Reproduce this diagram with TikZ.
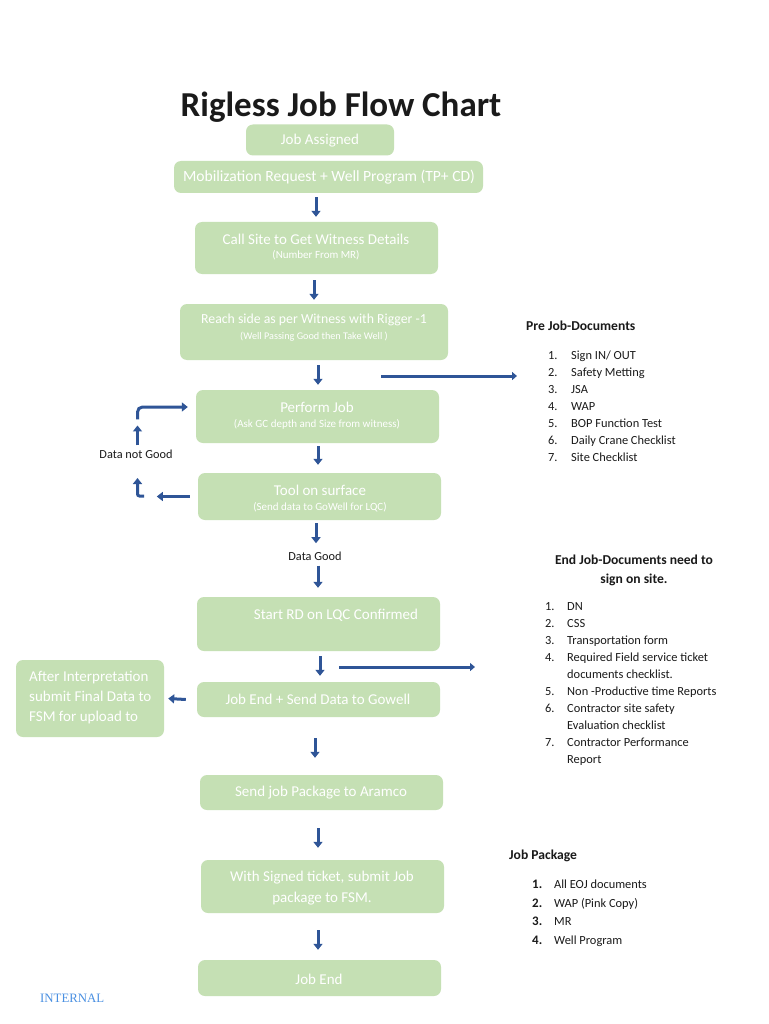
\documentclass[tikz,border=0pt]{standalone}
\usepackage{fontspec}
\setmainfont{Carlito}
\newfontfamily\intfont{Liberation Serif}
\usetikzlibrary{arrows.meta}
\definecolor{boxgreen}{HTML}{C5E0B4}
\definecolor{arrblue}{HTML}{2F5597}
\definecolor{intblue}{HTML}{4A90E2}
\definecolor{txtdark}{HTML}{1A1A1A}
\begin{document}
\begin{tikzpicture}[x=1pt,y=-1pt,
  box/.style={fill=boxgreen, rounded corners=7pt, inner sep=0pt},
  maintxt/.style={text=white, inner sep=0pt, font=\fontsize{15}{18}\selectfont},
  subtxt/.style={text=white, inner sep=0pt, font=\fontsize{11}{13}\selectfont},
  arr/.style={draw=arrblue, line width=3pt, -{Triangle[width=9pt,length=6pt]}},
  sarr/.style={draw=arrblue, line width=3pt, -{Triangle[width=8pt,length=5pt]}},
  lbl/.style={text=txtdark, inner sep=0pt, font=\fontsize{12.3}{14}\selectfont},
  head/.style={text=txtdark, inner sep=0pt, font=\bfseries\fontsize{13.6}{16}\selectfont},
  item/.style={text=txtdark, inner sep=0pt, anchor=mid west, font=\fontsize{12.4}{14}\selectfont},
  bitem/.style={text=txtdark, inner sep=0pt, anchor=mid west, font=\bfseries\fontsize{13}{15}\selectfont}
]
\useasboundingbox[fill=white] (0,0) rectangle (768,1024);

% title
\node[text=txtdark, inner sep=0pt, font=\bfseries\fontsize{35}{42}\selectfont] (title) at (341,107) {Rigless Job Flow Chart};

% boxes
\node[box, minimum width=148, minimum height=31] (assigned) at (320,140) {};
\node[maintxt] (tassigned) at (320,141) {Job Assigned};

\node[box, minimum width=309, minimum height=32] (mob) at (328.5,177) {};
\node[maintxt, font=\fontsize{15.6}{18}\selectfont] (tmob) at (329,177) {Mobilization Request + Well Program (TP+ CD)};

\node[box, minimum width=243, minimum height=52] (call) at (316.5,248) {};
\node[maintxt] (tcall) at (316,239) {Call Site to Get Witness Details};
\node[subtxt] (scall) at (316,255) {(Number From MR)};

\node[box, minimum width=268, minimum height=56] (reach) at (314,332) {};
\node[maintxt, font=\fontsize{13.8}{16}\selectfont] (treach) at (314,320) {Reach side as per Witness with Rigger -1};
\node[subtxt, font=\fontsize{10.2}{12}\selectfont] (sreach) at (314,337) {(Well Passing Good then Take Well )};

\node[box, minimum width=243, minimum height=53] (perform) at (317.5,416.5) {};
\node[maintxt] (tperform) at (317,407) {Perform Job};
\node[subtxt] (sperform) at (317,424) {(Ask GC depth and Size from witness)};

\node[box, minimum width=243, minimum height=47] (tool) at (319.5,496.5) {};
\node[maintxt] (ttool) at (320,490) {Tool on surface};
\node[subtxt] (stool) at (320,507) {(Send data to GoWell for LQC)};

\node[box, minimum width=243, minimum height=54] (start) at (318.5,624) {};
\node[maintxt] (tstart) at (336,615) {Start RD on LQC Confirmed};

\node[box, minimum width=243, minimum height=35] (jobend) at (318.5,699.5) {};
\node[maintxt] (tjobend) at (318,699) {Job End + Send Data to Gowell};

\node[box, minimum width=148, minimum height=77] (after) at (90,698.5) {};
\node[maintxt, anchor=west, align=left, font=\fontsize{15}{20}\selectfont] (tafter) at (29,698) {After Interpretation\\submit Final Data to\\FSM for upload to};

\node[box, minimum width=243, minimum height=35] (aramco) at (321.5,792.5) {};
\node[maintxt] (taramco) at (321,793) {Send job Package to Aramco};

\node[box, minimum width=243, minimum height=53] (signed) at (322.5,886.5) {};
\node[maintxt, align=center, font=\fontsize{15}{21}\selectfont] (tsigned) at (322,888) {With Signed ticket, submit Job\\package to FSM.};

\node[box, minimum width=243, minimum height=36] (end) at (319.5,978) {};
\node[maintxt] (tend) at (319,979) {Job End};

% vertical arrows
\draw[arr] ([xshift=-12.5pt,yshift=-4pt]mob.south) -- ([xshift=-0.5pt,yshift=5pt]call.north);
\draw[arr] ([xshift=-2.5pt,yshift=-6pt]call.south) -- ([xshift=0pt,yshift=4pt]reach.north);
\draw[arr] ([xshift=4pt,yshift=-5pt]reach.south) -- ([xshift=0.5pt,yshift=5pt]perform.north);
\draw[arr] ([xshift=0.5pt,yshift=-3pt]perform.south) -- ([xshift=-1.5pt,yshift=8pt]tool.north);
\draw[arr] ([xshift=-3.5pt,yshift=-3pt]tool.south) -- ([xshift=-3.5pt,yshift=-23pt]tool.south);
\node[lbl] (good) at (315,556) {Data Good};
\draw[arr] ([xshift=3pt,yshift=-5pt]good.south) -- ([xshift=-0.5pt,yshift=9pt]start.north);
\draw[arr] ([xshift=1.5pt,yshift=-5pt]start.south) -- ([xshift=1.5pt,yshift=6pt]jobend.north);
\draw[arr] ([xshift=-3.5pt,yshift=-21pt]jobend.south) -- ([xshift=-6.5pt,yshift=17pt]aramco.north);
\draw[arr] ([xshift=-3.5pt,yshift=-18pt]aramco.south) -- ([xshift=-4.5pt,yshift=12pt]signed.north);
\draw[arr] ([xshift=-4.5pt,yshift=-17pt]signed.south) -- ([xshift=-1.5pt,yshift=10pt]end.north);

% side arrows
\coordinate (pre) at (517,376);
\draw[sarr] (381,376) -- (pre);
\coordinate (endarrow) at (475,667);
\draw[sarr] (339,667) -- (endarrow);

\draw[arr] ([xshift=-8pt]tool.west) -- ([xshift=-41pt]tool.west);
\draw[arr] ([xshift=-11pt]jobend.west) -- ([xshift=4pt]after.east);

% data not good loop
\node[lbl] (notgood) at (136,454) {Data not Good};
\coordinate (bl) at (144,496);
\draw[arr, rounded corners=2pt] (bl) -- (137.5,496) -- (137.5,478);
\draw[arr] ([xshift=1.5pt,yshift=4pt]notgood.north) -- ([xshift=1.5pt,yshift=24pt]notgood.north);
\draw[arr, rounded corners=5pt] ([xshift=1.5pt,yshift=30pt]notgood.north) -- (137.5,407) -- ([xshift=-8pt]perform.west |- 0,407);

% Pre job documents
\node[head, anchor=mid west] (prehead) at (526,328) {Pre Job-Documents};
\foreach \n/\t/\y in {1/{Sign IN/ OUT}/357, 2/Safety Metting/374, 3/JSA/391, 4/WAP/408, 5/BOP Function Test/425, 6/Daily Crane Checklist/442, 7/Site Checklist/459}{
  \node[item] (pn\n) at (548,\y) {\n.};
  \node[item] (pt\n) at (571,\y) {\t};
}

% End job documents
\node[head, align=center, font=\bfseries\fontsize{13.6}{19}\selectfont] (endhead) at (634,570) {End Job-Documents need to\\sign on site.};
\foreach \n/\y in {1/608, 2/625, 3/642, 4/659, 5/693, 6/710, 7/744}{
  \node[item] (en\n) at (545,\y) {\n.};
}
\node[item] (et1) at (567,608) {DN};
\node[item] (et2) at (567,625) {CSS};
\node[item] (et3) at (567,642) {Transportation form};
\node[item] (et4) at (567,659) {Required Field service ticket};
\node[item] (et4b) at (567,676) {documents checklist.};
\node[item] (et5) at (567,693) {Non -Productive time Reports};
\node[item] (et6) at (567,710) {Contractor site safety};
\node[item] (et6b) at (567,727) {Evaluation checklist};
\node[item] (et7) at (567,744) {Contractor Performance};
\node[item] (et7b) at (567,761) {Report};

% Job package
\node[head, anchor=mid west] (pkghead) at (509,857) {Job Package};
\foreach \n/\t/\y in {1/All EOJ documents/886, 2/WAP (Pink Copy)/905, 3/MR/923, 4/Well Program/942}{
  \node[bitem] (kn\n) at (532,\y) {\n.};
  \node[item] (kt\n) at (554,\y) {\t};
}

% footer
\node[text=intblue, inner sep=0pt, anchor=mid west, font=\intfont\fontsize{12.8}{15}\selectfont] (internal) at (40,1000) {INTERNAL};
\end{tikzpicture}
\end{document}
